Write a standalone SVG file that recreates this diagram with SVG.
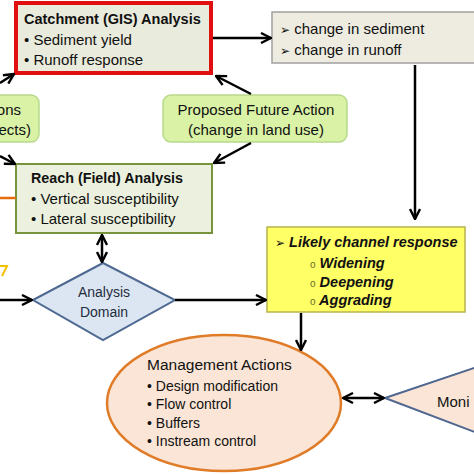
<svg xmlns="http://www.w3.org/2000/svg" width="474" height="474" viewBox="0 0 474 474">
<defs>
<marker id="ah" viewBox="0 0 12 12" refX="11" refY="6" markerWidth="12" markerHeight="12" markerUnits="userSpaceOnUse" orient="auto-start-reverse">
<path d="M1,1 L11,6 L1,11" fill="none" stroke="#000" stroke-width="2.4" stroke-linejoin="miter"/>
</marker>
<style>
text{font-family:"Liberation Sans",Arial,sans-serif;fill:#111}
.b{font-weight:bold}
.t15{font-size:15px}
.t14{font-size:14px}
.bi{font-weight:bold;font-style:italic;font-size:14.5px}
.sym{font-family:"DejaVu Sans",sans-serif;font-size:12px}
.o{font-size:10px;fill:#6b6b2a}
.c{stroke:#000;stroke-width:2.5;fill:none}
</style>
</defs>
<rect width="474" height="474" fill="#fff"/>

<g id="catchment">
<rect x="16" y="3" width="195" height="70" fill="#e9ebdc" stroke="#e01010" stroke-width="4"/>
<text x="24" y="24" class="b" font-size="14.5">Catchment (GIS) Analysis</text>
<text x="24" y="45" class="t15">• Sediment yield</text>
<text x="24" y="65" class="t15">• Runoff response</text>
</g>

<g id="change">
<rect x="272" y="12" width="210" height="51" fill="#eeece1" stroke="#a0a0a0" stroke-width="1.5"/>
<text x="280" y="34" class="t15"><tspan class="sym">➢</tspan> change in sediment</text>
<text x="280" y="55" class="t15"><tspan class="sym">➢</tspan> change in runoff</text>
</g>

<g id="left-box">
<rect x="-80" y="95" width="119" height="47" rx="8" fill="#d9f2a6" stroke="#b8d98c" stroke-width="1.5"/>
<text x="21" y="115" class="t15" text-anchor="end">ons</text>
<text x="31" y="135" class="t15" text-anchor="end">ects)</text>
</g>

<g id="proposed">
<rect x="163" y="95" width="184" height="47" rx="8" fill="#d9f2a6" stroke="#b8d98c" stroke-width="1.5"/>
<text x="256" y="115" class="t15" text-anchor="middle">Proposed Future Action</text>
<text x="256" y="135" class="t15" text-anchor="middle">(change in land use)</text>
</g>

<g id="reach">
<rect x="16" y="164" width="196" height="69" fill="#ebf1de" stroke="#77933c" stroke-width="2"/>
<text x="31" y="183" class="b" font-size="14.3">Reach (Field) Analysis</text>
<text x="31" y="204" class="t15">• Vertical susceptibility</text>
<text x="31" y="224" class="t15">• Lateral susceptibility</text>
</g>

<g id="domain">
<polygon points="33,300 103,263 175,300 103,340" fill="#dce6f2" stroke="#4f6a92" stroke-width="2"/>
<text x="104" y="297" font-size="14" text-anchor="middle" style="fill:#1f2d3d">Analysis</text>
<text x="104" y="317" font-size="14" text-anchor="middle" style="fill:#1f2d3d">Domain</text>
</g>

<g id="likely">
<rect x="267" y="227" width="198" height="85" fill="#ffff66" stroke="#b8b34c" stroke-width="1.5"/>
<text x="275" y="247" class="bi"><tspan class="sym" font-style="normal" font-weight="normal">➢</tspan> Likely channel response</text>
<text x="310" y="268" class="bi" font-size="14"><tspan class="o" font-weight="normal" font-style="normal">o</tspan> Widening</text>
<text x="310" y="287" class="bi" font-size="14"><tspan class="o" font-weight="normal" font-style="normal">o</tspan> Deepening</text>
<text x="310" y="305" class="bi" font-size="14"><tspan class="o" font-weight="normal" font-style="normal">o</tspan> Aggrading</text>
</g>

<g id="management">
<ellipse cx="224" cy="403" rx="117" ry="68" fill="#fbe5d6" stroke="#e07b28" stroke-width="2.5"/>
<text x="147" y="370" font-size="15.5">Management Actions</text>
<text x="147" y="391" class="t14">• Design modification</text>
<text x="147" y="409" class="t14">• Flow control</text>
<text x="147" y="428" class="t14">• Buffers</text>
<text x="147" y="446" class="t14">• Instream control</text>
</g>

<g id="monitoring">
<polygon points="385,398 480,366 480,434" fill="#fbe5d6" stroke="#4f6690" stroke-width="2"/>
<text x="437" y="407" class="t15">Moni</text>
</g>

<g id="connectors">
<line class="c" x1="213" y1="38" x2="271" y2="38" marker-end="url(#ah)"/>
<line class="c" x1="415" y1="65" x2="415" y2="219" marker-end="url(#ah)"/>
<line class="c" x1="251" y1="94" x2="216" y2="76" marker-end="url(#ah)"/>
<line class="c" x1="251" y1="143" x2="214" y2="163" marker-end="url(#ah)"/>
<line class="c" x1="0" y1="83" x2="14" y2="74" marker-end="url(#ah)"/>
<line class="c" x1="0" y1="156" x2="15" y2="164" marker-end="url(#ah)"/>
<line class="c" x1="102" y1="235" x2="102" y2="262" marker-start="url(#ah)" marker-end="url(#ah)"/>
<line class="c" x1="0" y1="300" x2="32" y2="300" marker-end="url(#ah)"/>
<line class="c" x1="175" y1="300" x2="266" y2="300" marker-end="url(#ah)"/>
<line class="c" x1="301" y1="313" x2="301" y2="350" marker-end="url(#ah)"/>
<line class="c" x1="343" y1="398" x2="384" y2="398" marker-start="url(#ah)" marker-end="url(#ah)"/>
<line x1="0" y1="198" x2="16" y2="198" stroke="#e46c0a" stroke-width="2.5"/>
<path d="M0,266 L7,266 L2,276" fill="none" stroke="#f2c200" stroke-width="2"/>
</g>
</svg>
